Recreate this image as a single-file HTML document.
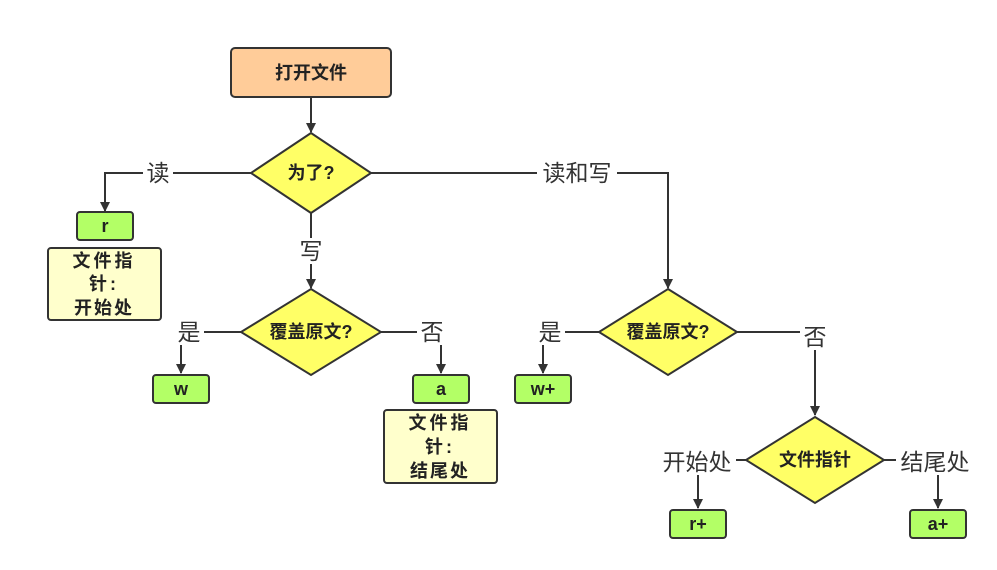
<!DOCTYPE html>
<html><head><meta charset="utf-8"><style>
body{margin:0;background:#fff}
svg{display:block}
text{font-family:"Liberation Sans","Noto Sans CJK SC",sans-serif;text-anchor:middle;dominant-baseline:central;fill:#222}
.b{font-weight:bold;font-size:18px}
.l{font-size:23px;fill:#333}
.s{stroke:#333;stroke-width:2;fill:none}
</style></head><body>
<svg width="997" height="570" viewBox="0 0 997 570">
<defs><marker id="a" markerWidth="10" markerHeight="10" refX="9" refY="5" orient="auto" markerUnits="userSpaceOnUse"><path d="M0,0 L10,5 L0,10 Z" fill="#333"/></marker></defs>
<g class="s" marker-end="url(#a)">
<path d="M311,97 V132"/>
<path d="M251,173 H105 V211"/>
<path d="M311,213 V288"/>
<path d="M371,173 H668 V288"/>
<path d="M241,332 H181 V373"/>
<path d="M381,332 H441 V373"/>
<path d="M599,332 H543 V373"/>
<path d="M737,332 H815 V415"/>
<path d="M746,460 H698 V508"/>
<path d="M884,460 H938 V508"/>
</g>
<g fill="#fff">
<rect x="143" y="160" width="30" height="26"/>
<rect x="296" y="238" width="30" height="26"/>
<rect x="537" y="160" width="80" height="26"/>
<rect x="174" y="319" width="30" height="26"/>
<rect x="417" y="319" width="30" height="26"/>
<rect x="535" y="319" width="30" height="26"/>
<rect x="800" y="324" width="30" height="26"/>
<rect x="658" y="449" width="78" height="26"/>
<rect x="896" y="449" width="78" height="26"/>
</g>
<text class="l" x="158" y="173">读</text>
<text class="l" x="311" y="251">写</text>
<text class="l" x="577" y="173">读和写</text>
<text class="l" x="189" y="332">是</text>
<text class="l" x="432" y="332">否</text>
<text class="l" x="550" y="332">是</text>
<text class="l" x="815" y="337">否</text>
<text class="l" x="697" y="462">开始处</text>
<text class="l" x="935" y="462">结尾处</text>
<g stroke="#333" stroke-width="2">
<rect x="231" y="48" width="160" height="49" rx="4" fill="#ffcc99"/>
<path d="M311,133 L371,173 L311,213 L251,173 Z" fill="#ffff66"/>
<path d="M311,289 L381,332 L311,375 L241,332 Z" fill="#ffff66"/>
<path d="M668,289 L737,332 L668,375 L599,332 Z" fill="#ffff66"/>
<path d="M815,417 L884,460 L815,503 L746,460 Z" fill="#ffff66"/>
<rect x="77" y="212" width="56" height="28" rx="3" fill="#b3ff66"/>
<rect x="153" y="375" width="56" height="28" rx="3" fill="#b3ff66"/>
<rect x="413" y="375" width="56" height="28" rx="3" fill="#b3ff66"/>
<rect x="515" y="375" width="56" height="28" rx="3" fill="#b3ff66"/>
<rect x="670" y="510" width="56" height="28" rx="3" fill="#b3ff66"/>
<rect x="910" y="510" width="56" height="28" rx="3" fill="#b3ff66"/>
<rect x="48" y="248" width="113" height="72" rx="3" fill="#ffffcc"/>
<rect x="384" y="410" width="113" height="73" rx="3" fill="#ffffcc"/>
</g>
<text class="b" x="311" y="73">打开文件</text>
<text class="b" x="311" y="173">为了?</text>
<text class="b" x="311" y="332">覆盖原文?</text>
<text class="b" x="668" y="332">覆盖原文?</text>
<text class="b" x="815" y="460">文件指针</text>
<text class="b" x="105" y="226">r</text>
<text class="b" x="181" y="389">w</text>
<text class="b" x="441" y="389">a</text>
<text class="b" x="543" y="389">w+</text>
<text class="b" x="698" y="524">r+</text>
<text class="b" x="938" y="524">a+</text>
<text class="b" x="104" y="261" letter-spacing="3">文件指</text>
<text class="b" x="104" y="284" letter-spacing="3">针:</text>
<text class="b" x="104" y="308" letter-spacing="2">开始处</text>
<text class="b" x="440" y="423" letter-spacing="3">文件指</text>
<text class="b" x="440" y="447" letter-spacing="3">针:</text>
<text class="b" x="440" y="471" letter-spacing="2">结尾处</text>
</svg>
</body></html>
